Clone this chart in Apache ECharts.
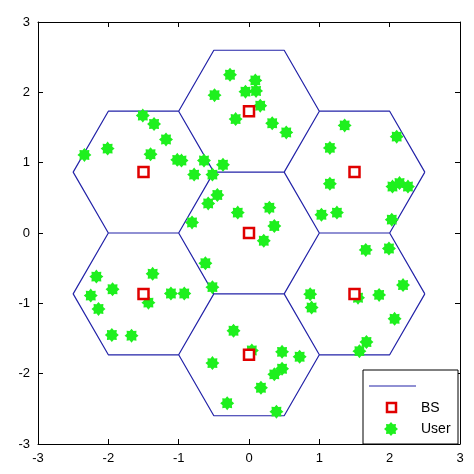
<!DOCTYPE html>
<html><head><meta charset="utf-8">
<script src="https://cdn.jsdelivr.net/npm/echarts@6/dist/echarts.min.js"></script>
<style>html,body{margin:0;padding:0;background:#fff}#c{width:474px;height:474px}</style>
</head><body><div id="c"></div>
<script>
const bsX = [0, 0, 0, 1.5, 1.5, -1.5, -1.5];
const bsY = [0, 1.732, -1.732, 0.866, -0.866, 0.866, -0.866];
const hexRadius = 1;
const userX = [-0.27,0.09,-0.05,0.10,-0.49,0.16,-0.19,0.33,0.53,
 -1.51,-1.35,-1.18,-2.34,-2.01,-1.40,-1.02,-0.96,-0.64,-0.78,-0.52,-0.37,
 -0.45,-0.58,-0.81,-0.16,0.29,0.36,0.21,
 1.36,2.10,1.15,1.15,2.04,2.14,2.26,1.03,1.25,2.03,
 -0.62,-0.52,-2.17,-2.25,-1.94,-1.37,-1.43,-1.11,-0.92,-2.14,-1.95,-1.67,
 1.66,1.99,2.19,0.87,0.89,1.55,1.85,2.07,1.67,1.57,
 -0.22,0.04,0.47,0.72,-0.52,0.47,0.36,0.17,-0.31,0.39];
const userY = [2.25,2.17,2.01,2.02,1.96,1.81,1.62,1.56,1.43,
 1.67,1.55,1.33,1.11,1.20,1.12,1.04,1.03,1.03,0.83,0.83,0.97,
 0.54,0.42,0.15,0.29,0.36,0.10,-0.11,
 1.53,1.37,1.21,0.70,0.66,0.71,0.66,0.26,0.29,0.19,
 -0.43,-0.77,-0.62,-0.89,-0.80,-0.58,-0.99,-0.86,-0.86,-1.08,-1.45,-1.46,
 -0.24,-0.22,-0.74,-0.87,-1.06,-0.92,-0.88,-1.22,-1.55,-1.68,
 -1.39,-1.67,-1.69,-1.76,-1.85,-1.93,-2.01,-2.20,-2.42,-2.54];

const hexData = [];
bsX.forEach((cx,i)=>{
  for(let k=0;k<=6;k++){const a=Math.PI/3*k;hexData.push([cx+hexRadius*Math.cos(a), bsY[i]+hexRadius*Math.sin(a)]);}
  hexData.push(null);
});
const starPts=[];
for(let k=0;k<16;k++){const a=Math.PI/8*k,r=(k%2?3.6:5);starPts.push([+(5+r*Math.cos(a)).toFixed(2),+(5+r*Math.sin(a)).toFixed(2)]);}
const star='path://M'+starPts.map(p=>p.join(',')).join('L')+'Z';
const ax = (pos)=>({type:'value',min:-3,max:3,interval:1,position:pos,
  axisLine:{show:true,onZero:false,lineStyle:{color:'#000',width:1}},
  axisTick:{show:true,inside:true,length:5,lineStyle:{color:'#000'}},
  axisLabel:{show:pos==='bottom'||pos==='left',color:'#000',fontSize:13,fontFamily:'Liberation Sans',margin:8},
  splitLine:{show:false}});
const chart = echarts.init(document.getElementById('c'));
chart.setOption({
  animation:false,
  grid:{left:38,right:14,top:22,bottom:30},
  xAxis:[ax('bottom'),ax('top')],
  yAxis:[ax('left'),ax('right')],
  series:[
    {type:'line',data:hexData,connectNulls:false,showSymbol:false,lineStyle:{color:'#2323a8',width:1.2},z:1},
    {type:'scatter',data:userX.map((x,i)=>[x,userY[i]]),symbol:star,symbolSize:14,itemStyle:{color:'#1ef01e',opacity:1},z:2},
    {type:'scatter',data:bsX.map((x,i)=>[x,bsY[i]]),symbol:'rect',symbolSize:10,itemStyle:{color:'#fff',borderColor:'#e00000',borderWidth:2.5,opacity:1},z:3}
  ],
  graphic:[
    {type:'rect',shape:{x:363,y:370,width:95,height:74},style:{fill:'#fff',stroke:'#000',lineWidth:1},z:10},
    {type:'line',shape:{x1:369,y1:386,x2:416,y2:386},style:{stroke:'#2323a8',lineWidth:1.2},z:11},
    {type:'rect',shape:{x:387,y:403,width:9,height:9},style:{fill:'#fff',stroke:'#e00000',lineWidth:2.5},z:11},
    {type:'text',style:{x:421,y:408,text:'BS',fill:'#000',font:'14px Liberation Sans',verticalAlign:'middle'},z:11},
    {type:'polygon',shape:{points:starPts.map(p=>[384+p[0]*1.4,422+p[1]*1.4])},style:{fill:'#1ef01e'},z:11},
    {type:'text',style:{x:421,y:429,text:'User',fill:'#000',font:'14px Liberation Sans',verticalAlign:'middle'},z:11}
  ]
});
</script></body></html>
